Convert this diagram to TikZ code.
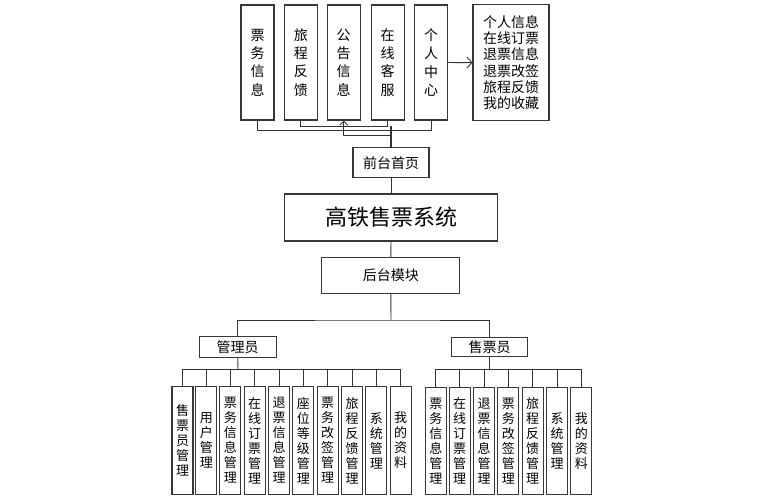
\documentclass[tikz,border=0pt]{standalone}
\usepackage{fontspec}
\setmainfont{Noto Sans CJK SC}
\usetikzlibrary{arrows.meta}
\begin{document}
\begin{tikzpicture}[x=1pt,y=-1pt,
  box/.style={draw=black!78,line width=1.1pt,inner sep=0pt,align=center},
  topbox/.style={box,minimum width=33pt,minimum height=115pt,font=\fontsize{14}{18.3}\selectfont},
  botbox/.style={box,minimum width=21pt,minimum height=107.5pt,font=\fontsize{13}{15}\selectfont},
  wire/.style={draw=black!80,line width=0.9pt}]
\useasboundingbox (0,0) rectangle (784,500);
% top row
\node[topbox] (t1) at (257.5,62.5) {票\\务\\信\\息};
\node[topbox] (t2) at (300.8,62.5) {旅\\程\\反\\馈};
\node[topbox] (t3) at (343.7,62.5) {公\\告\\信\\息};
\node[topbox] (t4) at (387.7,62.5) {在\\线\\客\\服};
\node[topbox] (t5) at (431,62.5) {个\\人\\中\\心};
\node[box,minimum width=76pt,minimum height=116pt,align=left,font=\fontsize{14}{16.2}\selectfont] (info) at (511,62.7)
  {个人信息\\在线订票\\退票信息\\退票改签\\旅程反馈\\我的收藏};
\draw[wire,-{Straight Barb[length=5pt,width=11pt]}] (t5.east) -- (info.west);
% middle
\node[box,minimum width=76pt,minimum height=30pt,font=\fontsize{14}{16}\selectfont] (fp) at (391,162.7) {前台首页};
\node[box,minimum width=212.6pt,minimum height=47pt,font=\fontsize{22}{24}\selectfont] (main) at (391,217.5) {高铁售票系统};
\node[box,minimum width=138pt,minimum height=35.6pt,font=\fontsize{14}{16}\selectfont] (bm) at (390.8,275.5) {后台模块};
% top connectors
\coordinate (hub) at (391,126);
\draw[wire] (t1.south) -- ++(0,10) -| (t5.south);
\draw[wire] (t2.south) -- ++(0,6) -| (t4.south);
\draw[wire,line width=1.3pt] (hub) -- (fp.north);
\draw[wire,{Straight Barb[length=4pt,width=8pt]}-] (t3.south) -- ++(0,15) -| (fp.north);
\draw[wire] (fp.south) -- (main.north);
\draw[wire] (main.south) -- (bm.north);
% roles
\node[box,minimum width=76.7pt,minimum height=20.6pt,font=\fontsize{14}{16}\selectfont] (admin) at (237.7,347) {管理员};
\node[box,minimum width=76pt,minimum height=19.4pt,font=\fontsize{14}{16}\selectfont] (seller) at (489.7,347) {售票员};
\coordinate (mbus) at (391,320);
\draw[wire] (bm.south) -- (mbus);
\draw[wire] (admin.north) |- (mbus) -| (seller.north);
% admin leaves
\foreach \n/\x/\t in {a1/182.5/售\\票\\员\\管\\理, a2/206.3/用\\户\\管\\理, a3/230.3/票\\务\\信\\息\\管\\理,
  a4/254.7/在\\线\\订\\票\\管\\理, a5/279/退\\票\\信\\息\\管\\理, a6/303.3/座\\位\\等\\级\\管\\理,
  a7/327.7/票\\务\\改\\签\\管\\理, a8/352/旅\\程\\反\\馈\\管\\理, a9/376.3/系\\统\\管\\理, a10/400.7/我\\的\\资\\料}
  {\node[botbox] (\n) at (\x,440.5) {\t};}
\coordinate (abus) at (238,369.3);
\draw[wire] (admin.south) -- (abus);
\draw[wire] (a1.north |- abus) -- (a10.north |- abus);
\foreach \n in {a1,a2,a3,a4,a5,a6,a7,a8,a9,a10}
  {\draw[wire] (\n.north |- abus) -- (\n.north);}
% seller leaves
\foreach \n/\x/\t in {s1/435.8/票\\务\\信\\息\\管\\理, s2/459.7/在\\线\\订\\票\\管\\理, s3/484/退\\票\\信\\息\\管\\理,
  s4/508.3/票\\务\\改\\签\\管\\理, s5/532.7/旅\\程\\反\\馈\\管\\理, s6/557/系\\统\\管\\理, s7/581.3/我\\的\\资\\料}
  {\node[botbox] (\n) at (\x,441) {\t};}
\coordinate (sbus) at (489.7,369.3);
\draw[wire] (seller.south) -- (sbus);
\draw[wire] (s1.north |- sbus) -- (s7.north |- sbus);
\foreach \n in {s1,s2,s3,s4,s5,s6,s7}
  {\draw[wire] (\n.north |- sbus) -- (\n.north);}
\end{tikzpicture}
\end{document}
